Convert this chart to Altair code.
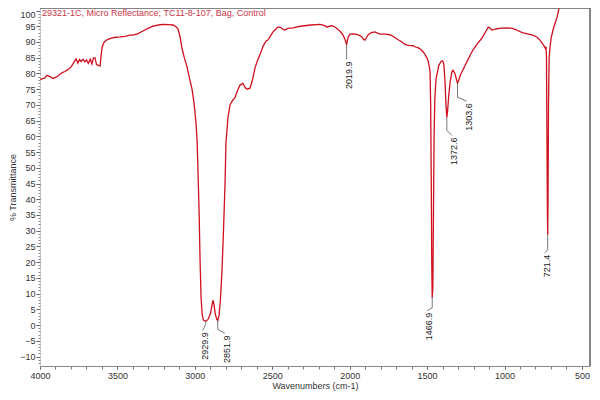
import altair as alt
import pandas as pd

# ---------------- data ----------------
wavenumber = [4000, 3970, 3955, 3935, 3916, 3895, 3875, 3858, 3840, 3820, 3800, 3785, 3767, 3755, 3745,
              3735, 3722, 3710, 3700, 3688, 3675, 3665, 3655, 3645, 3635, 3620, 3612, 3605, 3598, 3585,
              3567, 3540, 3510, 3483, 3450, 3420, 3400, 3370, 3335, 3300, 3270, 3235, 3205, 3170, 3140,
              3120, 3108, 3095, 3083, 3068, 3050, 3035, 3018, 3005, 2992, 2985, 2978, 2972, 2966, 2960,
              2953, 2945, 2930, 2915, 2900, 2890, 2883, 2876, 2868, 2858, 2852, 2844, 2835, 2825, 2815,
              2805, 2799, 2786, 2773, 2755, 2741, 2725, 2708, 2690, 2675, 2663, 2644, 2630, 2610, 2592,
              2575, 2560, 2540, 2528, 2510, 2495, 2475, 2463, 2445, 2430, 2418, 2400, 2366, 2321, 2250,
              2192, 2160, 2147, 2130, 2114, 2090, 2076, 2055, 2043, 2030, 2020, 2010, 1998, 1975, 1953,
              1935, 1921, 1910, 1901, 1890, 1882, 1860, 1837, 1820, 1804, 1770, 1740, 1710, 1690, 1675,
              1655, 1643, 1620, 1591, 1575, 1559, 1540, 1525, 1514, 1500, 1494, 1487, 1481, 1477, 1473,
              1470, 1467, 1463, 1459, 1455, 1450, 1443, 1435, 1425, 1410, 1400, 1392, 1385, 1378, 1373,
              1368, 1360, 1352, 1340, 1333, 1320, 1310, 1304, 1298, 1285, 1266, 1240, 1220, 1202, 1175,
              1148, 1125, 1105, 1095, 1083, 1065, 1051, 1020, 986, 950, 921, 900, 879, 850, 814,
              790, 771, 755, 743, 737, 732, 729, 726, 723, 721, 719, 716, 712, 706, 698,
              687, 675, 661, 648, 635]
transmittance = [78.1, 78.5, 79.4, 79.0, 78.4, 78.8, 79.6, 80.2, 80.6, 81.2, 82.0, 83.2, 84.6, 83.3, 84.4,
                 83.8, 84.5, 83.7, 84.3, 83.2, 84.5, 83.0, 84.9, 85.0, 82.8, 82.5, 82.4, 86.0, 88.5, 90.0,
                 90.7, 91.2, 91.5, 91.6, 91.8, 92.2, 92.2, 92.6, 93.5, 94.4, 95.0, 95.4, 95.6, 95.5, 95.4,
                 94.8, 94.0, 91.5, 88.0, 85.0, 82.0, 78.5, 75.0, 70.5, 64.0, 58.0, 46.0, 35.0, 20.0, 9.0,
                 3.5, 1.6, 1.2, 1.8, 3.5, 6.0, 7.9, 6.5, 3.5, 1.8, 1.5, 3.0, 8.0, 17.0, 30.0,
                 45.0, 58.0, 66.0, 70.0, 71.5, 72.3, 74.5, 76.3, 76.8, 75.5, 75.0, 75.3, 77.5, 82.0, 84.5,
                 86.5, 88.6, 90.3, 90.6, 92.0, 93.2, 94.2, 94.8, 94.6, 94.0, 93.8, 94.3, 94.5, 95.0, 95.4,
                 95.6, 95.2, 94.7, 95.0, 95.2, 94.6, 94.0, 93.0, 92.2, 90.8, 89.2, 91.5, 92.5, 92.6, 92.4,
                 92.0, 91.6, 90.8, 90.6, 91.5, 92.2, 93.0, 93.2, 92.8, 92.5, 92.5, 92.3, 91.5, 90.8, 90.4,
                 89.7, 89.2, 88.9, 88.8, 88.4, 88.2, 87.6, 86.8, 86.1, 84.8, 84.0, 82.5, 80.5, 70.0, 45.0,
                 20.0, 8.7, 12.0, 35.0, 60.0, 72.0, 78.0, 80.0, 82.5, 83.8, 84.0, 83.0, 78.0, 70.0, 66.0,
                 68.0, 73.0, 77.0, 80.5, 81.0, 80.0, 78.0, 76.9, 77.5, 79.5, 81.4, 84.0, 86.0, 87.6, 89.5,
                 91.1, 93.0, 94.7, 94.5, 93.8, 94.0, 94.2, 94.4, 94.5, 94.3, 93.8, 93.3, 92.9, 92.6, 92.1,
                 91.5, 90.6, 89.5, 88.6, 88.0, 88.5, 85.0, 60.0, 35.0, 28.7, 40.0, 70.0, 85.0, 88.5, 91.5,
                 93.8, 95.7, 97.8, 100.8, 103.0]

peak_wn = [2929.9, 2851.9, 2019.9, 1466.9, 1372.6, 1303.6, 721.4]
peak_t = [1.2, 1.5, 89.2, 8.7, 66.0, 76.9, 28.7]
peak_labels = ["2929.9", "2851.9", "2019.9", "1466.9", "1372.6", "1303.6", "721.4"]

x_ticks = [4000, 3500, 3000, 2500, 2000, 1500, 1000, 500]
y_ticks = [-10, -5, 0, 5, 10, 15, 20, 25, 30, 35, 40, 45, 50, 55, 60, 65, 70, 75, 80, 85, 90, 95, 100]
x_minor = list(range(500, 4001, 100))
y_minor = list(range(-12, 101, 1))

chart_title = "29321-1C, Micro Reflectance; TC11-8-107, Bag, Control"

# ---------------- layout / style ----------------
W, H = 550, 358
X_DOM = [448, 4000]
Y_DOM = [-13, 100.8]
kx = W / (X_DOM[1] - X_DOM[0])   # px per wavenumber
ky = H / (Y_DOM[1] - Y_DOM[0])   # px per % unit

# leader-line shape in pixels (style only)
lead_len = [3, 9, 15, 10, 13, 14, 15]
lead_dx = [-3, 7, 0, -5, 5, 9, -3]
lead_dy = [6, 4, 0, 3, 5, 4, 3]

FONT = "Liberation Sans"
RED = "#d0101e"

spec = pd.DataFrame({"wn": wavenumber, "t": transmittance})

lead_rows, text_rows = [], []
for w, t, lab, L, dx, dy in zip(peak_wn, peak_t, peak_labels, lead_len, lead_dx, lead_dy):
    w2 = w - dx / kx
    t1 = t - L / ky
    t2 = t - (L + dy) / ky
    lead_rows += [
        {"label": lab, "step": 0, "wn": w, "t": t},
        {"label": lab, "step": 1, "wn": w, "t": t1},
        {"label": lab, "step": 2, "wn": w2, "t": t2},
    ]
    text_rows.append({"label": lab, "wn": w2 - 2 / kx, "t": t2 - 2 / ky})
leads = pd.DataFrame(lead_rows)
texts = pd.DataFrame(text_rows)

xs = alt.Scale(domain=X_DOM, reverse=True, nice=False, zero=False)
ys = alt.Scale(domain=Y_DOM, nice=False, zero=False)

x_axis = alt.Axis(values=x_ticks, orient="bottom", title="Wavenumbers (cm-1)", titleFont=FONT,
                  titleFontSize=9, titleFontWeight="normal", titleColor="#333", titlePadding=1,
                  labelFont=FONT, labelFontSize=9, labelColor="#333", labelFlush=False,
                  labelOverlap=False, tickSize=3, tickColor="#666", domainColor="#888",
                  labelPadding=2, grid=False, format="d")
y_axis = alt.Axis(values=y_ticks, orient="left", title="% Transmittance", titleFont=FONT,
                  titleFontSize=9, titleFontWeight="normal", titleColor="#333", titlePadding=2,
                  labelFont=FONT, labelFontSize=9, labelColor="#333", labelFlush=False,
                  labelBaseline=alt.expr("datum.value == 100 ? 'top' : 'middle'"),
                  labelOverlap=False, tickSize=4, tickColor="#666", domainColor="#aaa",
                  domainDash=[1, 2], labelPadding=1, grid=False)
x_axis_minor = alt.Axis(values=x_minor, orient="bottom", labels=False, title=None, domain=False,
                        tickSize=3, tickColor="#777", grid=False)
y_axis_minor = alt.Axis(values=y_minor, orient="left", labels=False, title=None, domain=False,
                        tickSize=2, tickColor="#888", grid=False)

line = alt.Chart(spec).mark_line(color=RED, strokeWidth=1.3, clip=True).encode(
    x=alt.X("wn:Q", scale=xs, axis=x_axis),
    y=alt.Y("t:Q", scale=ys, axis=y_axis),
    order="wn:Q",
)

minor = alt.Chart(spec).mark_line(opacity=0).encode(
    x=alt.X("wn:Q", scale=xs, axis=x_axis_minor),
    y=alt.Y("t:Q", scale=ys, axis=y_axis_minor),
)

leader = alt.Chart(leads).mark_line(color="#555", strokeWidth=0.8).encode(
    x=alt.X("wn:Q", scale=xs, axis=None),
    y=alt.Y("t:Q", scale=ys, axis=None),
    detail="label:N",
    order="step:Q",
)

labels = alt.Chart(texts).mark_text(angle=270, align="right", baseline="middle", font=FONT,
                                    fontSize=9, color="#222").encode(
    x=alt.X("wn:Q", scale=xs, axis=None),
    y=alt.Y("t:Q", scale=ys, axis=None),
    text="label:N",
)

title_txt = alt.Chart(pd.DataFrame({"t": [chart_title]})).mark_text(
    align="left", baseline="middle", font=FONT, fontSize=9, color="#cc3346"
).encode(text="t:N", x=alt.value(2), y=alt.value(5))

border_top = alt.Chart(pd.DataFrame({"a": [0]})).mark_rule(color="#666", strokeWidth=1.5).encode(
    x=alt.value(0), x2=alt.value(W), y=alt.value(0))
border_right = alt.Chart(pd.DataFrame({"a": [0]})).mark_rule(color="#666", strokeWidth=1.5).encode(
    x=alt.value(W), y=alt.value(0), y2=alt.value(H))

chart = alt.layer(minor, line, leader, labels, title_txt, border_top, border_right).resolve_axis(
    x="independent", y="independent"
).properties(
    width=W, height=H,
    padding={"left": 32, "top": 0, "right": 2, "bottom": 26},
    autosize=alt.AutoSizeParams(type="none"),
).configure_view(strokeWidth=0).configure(background="white")

chart.save("out.html", embed_options={"renderer": "svg", "actions": False})
